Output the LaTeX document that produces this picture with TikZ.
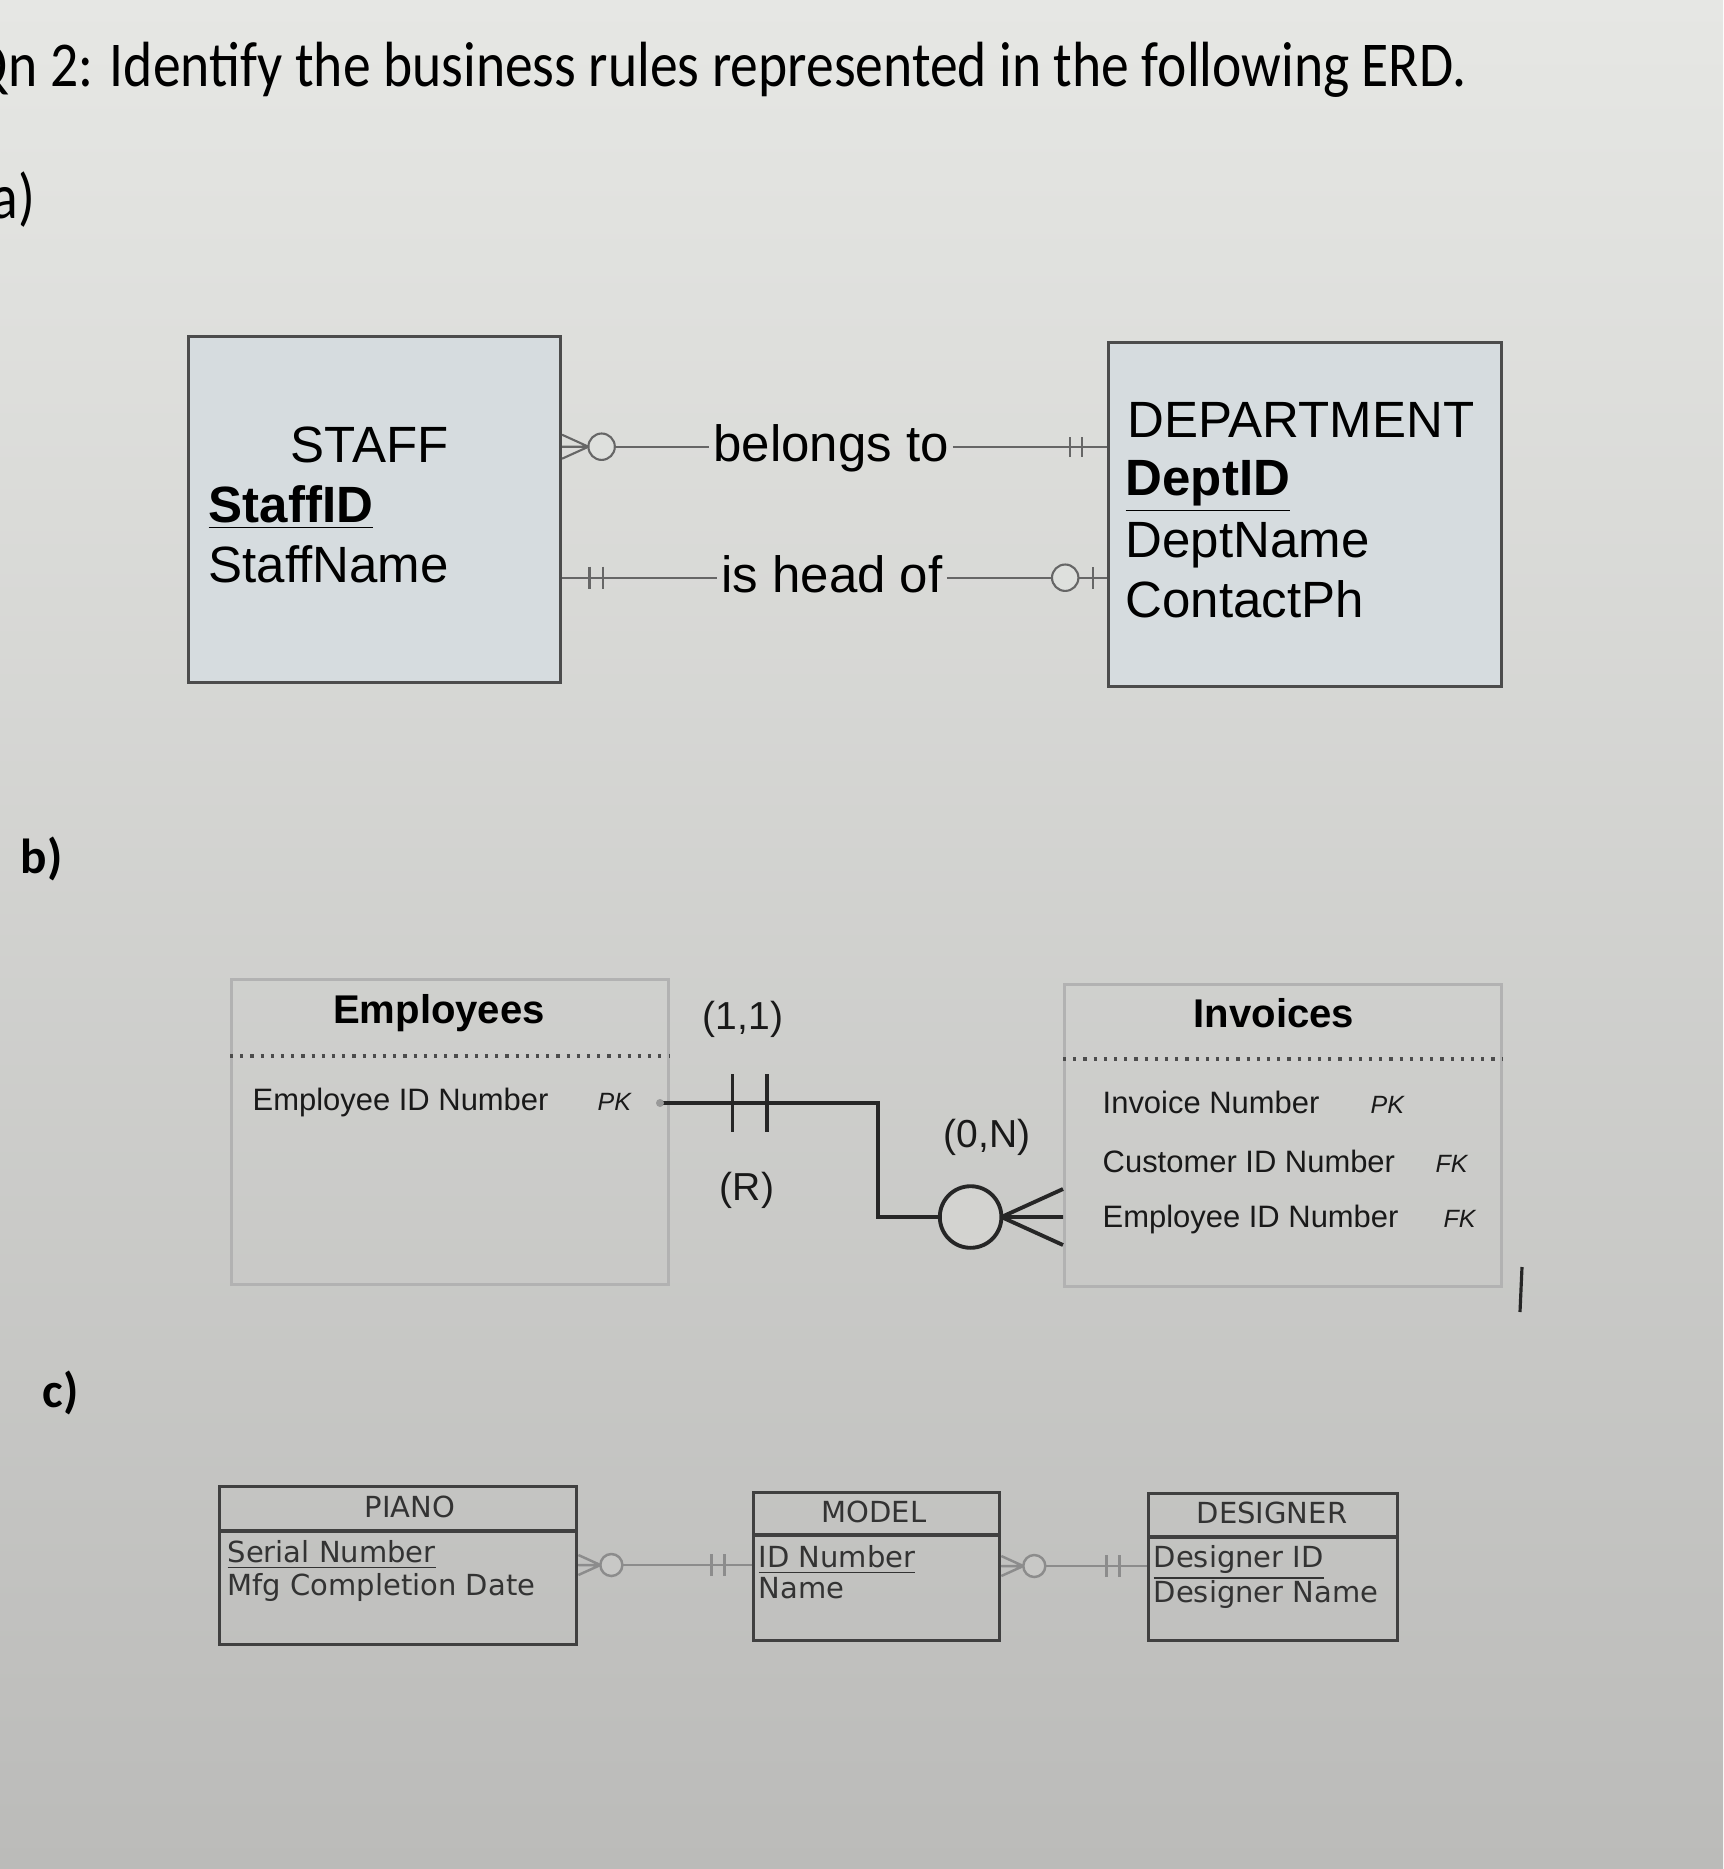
\documentclass[tikz,border=0pt]{standalone}
\usepackage{fontspec}
\setmainfont{Liberation Sans}
\newfontfamily\qfont{Carlito}
\newfontfamily\vfont{DejaVu Sans}
\definecolor{bgtop}{HTML}{E6E7E4}
\definecolor{bgmid}{HTML}{D4D5D2}
\definecolor{bgbot}{HTML}{BBBBB9}
\definecolor{erfill}{HTML}{D6DCDF}
\definecolor{holea}{HTML}{DEE0DD}
\definecolor{holeb}{HTML}{D3D3D0}
\definecolor{holec}{HTML}{C8C8C6}
\begin{document}
\begin{tikzpicture}[
    x=0.01cm, y=-0.01cm,
    txt/.style={inner sep=0, anchor=base west},
    qtext/.style={txt, font=\qfont\fontsize{15.8}{18}\selectfont},
    qbold/.style={txt, font=\qfont\bfseries\fontsize{14}{16}\selectfont},
    atext/.style={txt, font=\fontsize{14.5}{17}\selectfont},
    btext/.style={txt, text=black!90, font=\fontsize{8.8}{10}\selectfont},
    bhead/.style={txt, anchor=base, font=\bfseries\fontsize{11.4}{13}\selectfont},
    bkey/.style={txt, text=black!90, font=\itshape\fontsize{7.1}{8}\selectfont},
    card/.style={inner sep=0, text=black!90, font=\fontsize{11.1}{13}\selectfont},
    ctext/.style={txt, text=black!80, font=\vfont\fontsize{8.25}{10}\selectfont},
    chead/.style={ctext, anchor=base},
    staffbox/.style={draw=black!70, fill=erfill, line width=0.8pt, anchor=north west, inner sep=0},
    tablebox/.style={draw=black!30, line width=0.9pt, anchor=north west, inner sep=0},
    plainbox/.style={draw=black!75, line width=0.9pt, anchor=north west, inner sep=0},
    arel/.style={draw=black!60, line width=0.6pt},
    brel/.style={draw=black!85, line width=1.1pt},
    crel/.style={draw=black!45, line width=0.7pt},
    asym/.style={arel, fill=holea},
    bsym/.style={brel, fill=holeb},
    csym/.style={crel, fill=holec},
    zeromany/.pic={
        \path[pic actions, fill=none] (0,-1) -- (2.2,0) -- (0,1) (0,0) -- (2.2,0);
        \path[pic actions] (3.3,0) circle (1.1);
    },
    mandone/.pic={
        \path[pic actions] (2.5,-1) -- (2.5,1) (3.7,-1) -- (3.7,1);
    },
    zeroone/.pic={
        \path[pic actions] (1.3,-1) -- (1.3,1);
        \path[pic actions] (3.8,0) circle (1.2);
    }
  ]
  \useasboundingbox (0,0) rectangle (1723,1869);
  \shade[top color=bgtop, middle color=bgmid, bottom color=bgbot] (0,0) rectangle (1723,1869);

  % Question and part labels
  \node[qtext, anchor=base east] (title) at (1467,86)
    {\scalebox{1}[1.15]{Qn 2: Identify the business rules represented in the following ERD.}};
  \node[qtext, anchor=base east] (parta) at (36,218) {\scalebox{1}[1.15]{a)}};
  \node[qbold] (partb) at (20,873) {b)};
  \node[qbold] (partc) at (42,1407) {c)};

  % Part a: STAFF and DEPARTMENT
  \node[staffbox, minimum width=3.72cm, minimum height=3.46cm] (staff) at (187,335) {};
  \node[staffbox, minimum width=3.93cm, minimum height=3.44cm] (dept) at (1107,341) {};
  \node[atext] (staffname) at (290,462) {STAFF};
  \node[atext] (staffid) at (208,522) {\underline{\textbf{StaffID}}};
  \node[atext] (staffnm) at (208,582) {StaffName};
  \node[atext] (deptname) at (1127,437) {DEPARTMENT};
  \node[atext] (deptid) at (1125,495) {\underline{\textbf{DeptID}}};
  \node[atext] (deptnm) at (1125,557) {DeptName};
  \node[atext] (deptph) at (1125,617) {ContactPh};

  \node[atext, anchor=base, inner sep=1pt] (belongs) at (831,461) {belongs to};
  \node[atext, anchor=base, inner sep=1pt] (heads) at (832,592) {is head of};
  \coordinate (bel) at ([yshift=0.05cm]belongs.mid);
  \coordinate (hea) at ([yshift=0.05cm]heads.mid);
  \draw[arel] (staff.east |- bel) -- (belongs.west |- bel);
  \draw[arel] (belongs.east |- bel) -- (dept.west |- bel);
  \draw[arel] (staff.east |- hea) -- (heads.west |- hea);
  \draw[arel] (heads.east |- hea) -- (dept.west |- hea);
  \pic[asym, scale=12] at (staff.east |- bel) {zeromany};
  \pic[asym, scale=10, rotate=180] at (dept.west |- bel) {mandone};
  \pic[asym, scale=11] at (staff.east |- hea) {mandone};
  \pic[asym, scale=11, rotate=180] at (dept.west |- hea) {zeroone};

  % Part b: Employees and Invoices
  \node[tablebox, minimum width=4.37cm, minimum height=3.05cm] (emp) at (230,978) {};
  \node[tablebox, minimum width=4.37cm, minimum height=3.02cm] (inv) at (1063,983) {};
  \draw[black!70, line width=0.9pt, dotted] ([yshift=-0.78cm]emp.north west) -- ([yshift=-0.78cm]emp.north east);
  \draw[black!70, line width=0.9pt, dotted] ([yshift=-0.76cm]inv.north west) -- ([yshift=-0.76cm]inv.north east);
  \node[bhead] (emphead) at (439,1023) {Employees};
  \node[bhead] (invhead) at (1274,1027) {Invoices};
  \node[btext] (emprow) at (252,1110) {Employee ID Number};
  \node[bkey] (emprow-key) at (597,1110) {PK};
  \foreach \name/\key/\xk/\y in {Invoice Number/PK/1370/1113,
      Customer ID Number/FK/1435/1172, Employee ID Number/FK/1443/1227} {
    \node[btext] (inv\y) at (1102,\y) {\name};
    \node[bkey] (inv\y-key) at (\xk,\y) {\key};
  }

  \coordinate (empkey) at (660,1103);
  \coordinate (elbow) at (878,1217);
  \draw[brel] (empkey) -| (elbow) -- (inv.west |- elbow);
  \fill[black!40] (empkey) circle (4);
  \pic[bsym, scale=29] at (empkey) {mandone};
  \pic[bsym, scale=28, rotate=180] at (inv.west |- elbow) {zeromany};
  \node[card] (one) at (743,1019) {(1,1)};
  \node[card] (rel) at (747,1190) {(R)};
  \node[card] (many) at (987,1137) {(0,N)};

  % Part c: PIANO, MODEL and DESIGNER
  \node[plainbox, minimum width=3.57cm, minimum height=1.58cm] (piano) at (218,1485) {};
  \node[plainbox, minimum width=2.46cm, minimum height=1.48cm] (model) at (752,1491) {};
  \node[plainbox, minimum width=2.49cm, minimum height=1.47cm] (designer) at (1147,1492) {};
  \foreach \n/\h in {piano/46, model/44, designer/45}
    \draw[black!75, line width=0.9pt] ([yshift=-\h*0.01cm]\n.north west) -- ([yshift=-\h*0.01cm]\n.north east);
  \node[chead] (pianohead) at (410,1517) {PIANO};
  \node[ctext] (pianoid) at (227,1562) {\underline{Serial Number}};
  \node[ctext] (pianodate) at (227,1595) {Mfg Completion Date};
  \node[chead] (modelhead) at (874,1522) {MODEL};
  \node[ctext] (modelid) at (758,1567) {\underline{ID Number}};
  \node[ctext] (modelname) at (758,1598) {Name};
  \node[chead] (designerhead) at (1272,1523) {DESIGNER};
  \node[ctext] (designerid) at (1153,1567) {\underline{Designer ID}};
  \node[ctext] (designername) at (1153,1602) {Designer Name};

  \foreach \a/\b/\y in {piano/model/1565, model/designer/1566} {
    \draw[crel] (\a.east |- 0,\y) -- (\b.west |- 0,\y);
    \pic[csym, scale=10] at (\a.east |- 0,\y) {zeromany};
    \pic[csym, scale=11, rotate=180] at (\b.west |- 0,\y) {mandone};
  }

  % cursor mark
  \draw[black!85, line width=0.9pt] (1522,1267) -- (1520,1312);
\end{tikzpicture}
\end{document}
